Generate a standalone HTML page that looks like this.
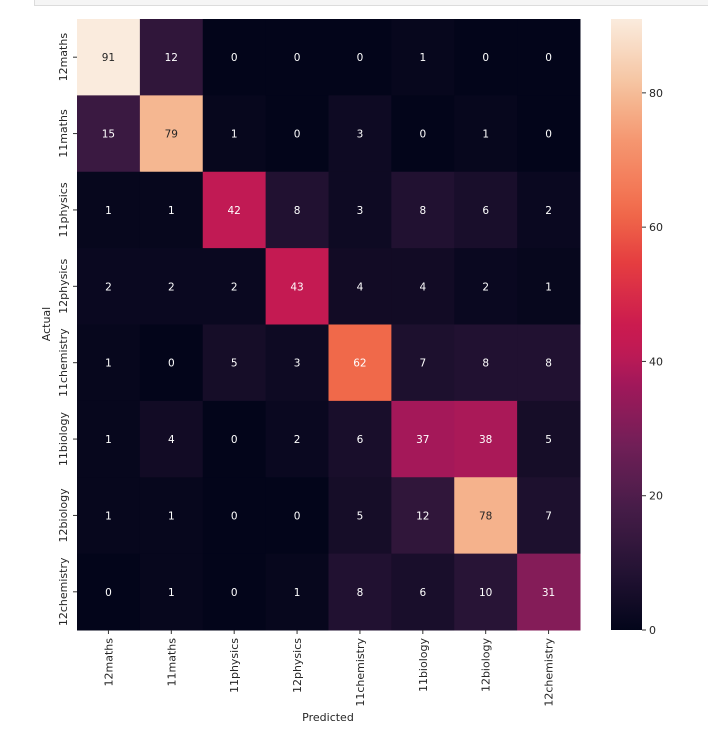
<!DOCTYPE html>
<html><head><meta charset="utf-8">
<style>
html,body{margin:0;padding:0;background:#fff;width:708px;height:745px;overflow:hidden;font-family:"DejaVu Sans","Liberation Sans",sans-serif;}
#frame{position:absolute;left:34px;top:-2px;width:690px;height:6px;background:#f5f5f5;border:1px solid #dcdcdc;}
</style></head><body>
<div id="frame"></div>
<svg id="chart" width="708" height="745" style="position:absolute;left:0;top:0"></svg>
<script>
const rowLabels=["12maths","11maths","11physics","12physics","11chemistry","11biology","12biology","12chemistry"];
const colLabels=["12maths","11maths","11physics","12physics","11chemistry","11biology","12biology","12chemistry"];
const matrix=[
[91,12,0,0,0,1,0,0],
[15,79,1,0,3,0,1,0],
[1,1,42,8,3,8,6,2],
[2,2,2,43,4,4,2,1],
[1,0,5,3,62,7,8,8],
[1,4,0,2,6,37,38,5],
[1,1,0,0,5,12,78,7],
[0,1,0,1,8,6,10,31]];
const cbTicks=[0,20,40,60,80];
const vmin=0,vmax=91;
const NS="http://www.w3.org/2000/svg";
const svg=document.getElementById('chart');
const L=77,R=580,T=19,B=630;
const cw=(R-L)/colLabels.length, ch=(B-T)/rowLabels.length;
const stops=[[0,[3,5,26]],[0.1,[37,19,52]],[0.2,[70,28,72]],[0.3,[112,31,87]],[0.4,[160,24,90]],[0.46,[193,26,84]],[0.5,[203,27,79]],[0.6,[229,61,64]],[0.68,[240,104,74]],[0.7,[242,112,80]],[0.8,[245,150,112]],[0.87,[245,184,146]],[0.9,[246,198,164]],[1,[250,235,221]]];
function cmap(v){let t=(v-vmin)/(vmax-vmin);t=Math.max(0,Math.min(1,t));let i=0;while(i<stops.length-2&&t>stops[i+1][0])i++;const a=stops[i],b=stops[i+1];const f=(t-a[0])/(b[0]-a[0]);return [0,1,2].map(k=>Math.round(a[1][k]+(b[1][k]-a[1][k])*f));}
function rgb(c){return `rgb(${c[0]},${c[1]},${c[2]})`;}
function lum(c){const l=c.map(x=>{x/=255;return x<=0.03928?x/12.92:Math.pow((x+0.055)/1.055,2.4)});return 0.2126*l[0]+0.7152*l[1]+0.0722*l[2];}
function mk(tag,attrs,text){const e=document.createElementNS(NS,tag);for(const k in attrs)e.setAttribute(k,attrs[k]);if(text!==undefined)e.textContent=text;svg.appendChild(e);return e;}
const xPos=j=>L+j*cw, yPos=i=>T+i*ch;
const yCb=v=>B-(v-vmin)/(vmax-vmin)*(B-T);
matrix.forEach((row,i)=>row.forEach((v,j)=>{
 const c=cmap(v);
 const r=mk('rect',{x:xPos(j),y:yPos(i),width:cw+0.5,height:ch+0.5,fill:rgb(c)});
 
 
 const t=mk('text',{x:xPos(j)+cw/2,y:yPos(i)+ch/2+4,'text-anchor':'middle','font-size':'10.5',fill:lum(c)>0.408?'#262626':'#fff'},String(v));
 
 
}));
rowLabels.forEach((lab,i)=>{
 const y=yPos(i)+ch/2;
 mk('line',{x1:73,x2:77,y1:y,y2:y,stroke:'#333','stroke-width':1});
 const t=mk('text',{x:0,y:0,transform:`translate(67,${y}) rotate(-90)`,'text-anchor':'middle','font-size':'11',fill:'#262626'},lab);
 
 
});
colLabels.forEach((lab,j)=>{
 const x=xPos(j)+cw/2;
 mk('line',{x1:x,x2:x,y1:630,y2:634,stroke:'#333','stroke-width':1});
 const t=mk('text',{x:0,y:0,transform:`translate(${x+4},638) rotate(-90)`,'text-anchor':'end','font-size':'11',fill:'#262626'},lab);
 
 
});
const yt=mk('text',{x:0,y:0,transform:`translate(50,324) rotate(-90)`,'text-anchor':'middle','font-size':'11',fill:'#262626'},'Actual');


const xt=mk('text',{x:328,y:721,'text-anchor':'middle','font-size':'11',fill:'#262626'},'Predicted');


const defs=mk('defs',{});
const g=document.createElementNS(NS,'linearGradient');g.setAttribute('id','cbg');g.setAttribute('x1','0');g.setAttribute('y1','1');g.setAttribute('x2','0');g.setAttribute('y2','0');
for(let k=0;k<=40;k++){const s=document.createElementNS(NS,'stop');s.setAttribute('offset',k/40);s.setAttribute('stop-color',rgb(cmap(vmin+(vmax-vmin)*k/40)));g.appendChild(s);}
defs.appendChild(g);
const cb=mk('rect',{x:611,y:T,width:31,height:B-T,fill:'url(#cbg)'});


cbTicks.forEach(v=>{
 const y=yCb(v);
 mk('line',{x1:642,x2:646,y1:y,y2:y,stroke:'#333','stroke-width':1});
 const t=mk('text',{x:649,y:y+4,'font-size':'11',fill:'#262626'},String(v));
 
 
});
</script>
</body></html>
